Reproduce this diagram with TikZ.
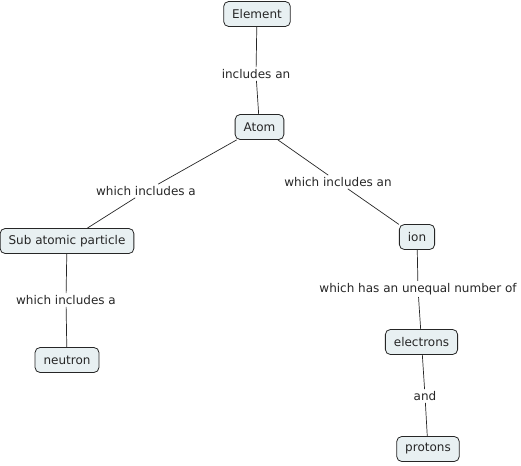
\documentclass[tikz,border=0pt]{standalone}
\usepackage{fontspec}
\setmainfont{DejaVu Sans}
\definecolor{conceptfill}{RGB}{232,240,242}
\begin{document}
\begin{tikzpicture}[x=1pt, y=-1pt,
    concept/.style={draw=black!85, fill=conceptfill, rounded corners=5pt, line width=0.8pt,
      minimum height=25pt, inner xsep=8.5pt, font=\fontsize{12}{14}\selectfont, text=black!85},
    link/.style={inner sep=2pt, font=\fontsize{12}{14}\selectfont, text=black!85},
    conn/.style={line width=0.7pt, draw=black!85}]
    \useasboundingbox (0,0) rectangle (521,465);
    % concepts
    \node[concept] (element) at (257,14) {Element};
    \node[concept] (atom) at (259.5,127) {Atom};
    \node[concept] (sub) at (67,241) {Sub atomic particle};
    \node[concept] (ion) at (417,237) {ion};
    \node[concept] (neutron) at (67,360) {neutron};
    \node[concept] (electrons) at (421.5,342) {electrons};
    \node[concept] (protons) at (428,449) {protons};
    % linking phrases
    \node[link] (l1) at (256,74) {includes an};
    \node[link] (l2) at (146,191) {which includes a};
    \node[link] (l3) at (338,182) {which includes an};
    \node[link] (l4) at (66,300) {which includes a};
    \node[link] (l5) at (418,289) {which has an unequal number of};
    \node[link] (l6) at (425,396) {and};
    % connectors
    \draw[conn] (element) -- (l1) -- (atom);
    \draw[conn] (atom) -- (l2) -- (sub);
    \draw[conn] (atom) -- (l3) -- (ion);
    \draw[conn] (sub) -- (l4) -- (neutron);
    \draw[conn] (ion) -- (l5) -- (electrons);
    \draw[conn] (electrons) -- (l6) -- (protons);
\end{tikzpicture}
\end{document}
